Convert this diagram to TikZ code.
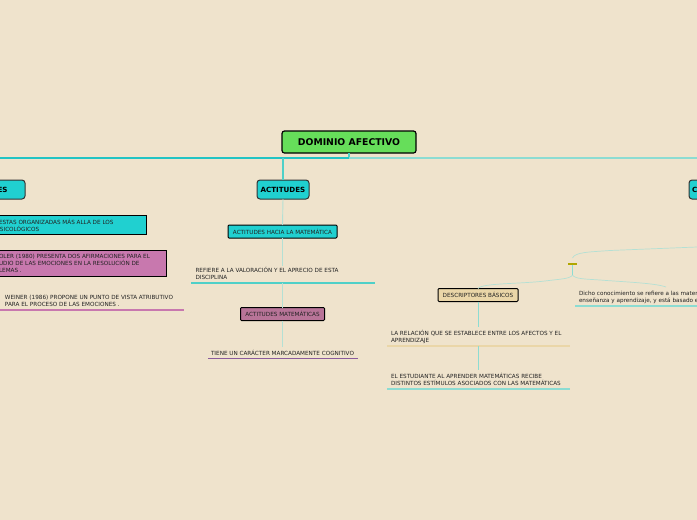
\documentclass[tikz,border=0pt]{standalone}
\usepackage{fontspec}
\setmainfont{DejaVu Sans}
\definecolor{bgc}{HTML}{EFE3CC}
\definecolor{teal1}{HTML}{22C4C4}
\definecolor{teal2}{HTML}{4FD0C8}
\definecolor{teal3}{HTML}{8CDCD2}
\definecolor{pale}{HTML}{B4E0D4}
\definecolor{boxc}{HTML}{20D0D0}
\definecolor{pink}{HTML}{C878AE}
\definecolor{mauve}{HTML}{B87498}
\definecolor{green1}{HTML}{66DE5A}
\definecolor{sand}{HTML}{EAD6A8}
\definecolor{purp}{HTML}{8A5C9C}
\definecolor{txt}{HTML}{222222}
\tikzset{
  x=1pt,y=-1pt,
  every node/.style={inner sep=0pt,outer sep=0pt,text=txt},
  tiny/.style={font=\fontsize{5.68}{7}\selectfont,align=left},
  rootbox/.style={draw=black,line width=1.2pt,rounded corners=2.5pt,fill=green1,text=black,font=\fontsize{9.3}{11}\selectfont\bfseries},
  mainbox/.style={draw=black!80,line width=1pt,rounded corners=3pt,fill=boxc,text=black,font=\fontsize{7.1}{9}\selectfont\bfseries},
  subbox/.style={draw=black,line width=1pt,rounded corners=1pt,tiny,align=center},
  widebox/.style={draw=black,line width=1pt,tiny},
  link/.style={line width=.9pt,draw=pale},
  rule/.style={line width=1.7pt}
}
\begin{document}
\begin{tikzpicture}
\useasboundingbox[fill=bgc] (0,0) rectangle (697,520);
\clip (0,0) rectangle (697,520);
% anchors
\coordinate (jl) at (283,158);
\coordinate (jr) at (349,158);
\coordinate (edgeL) at (0,158);
\coordinate (edgeR) at (697,158);
% boxes
\node[rootbox,minimum width=134pt,minimum height=22pt] (root) at (349,142) {DOMINIO AFECTIVO};
\node[mainbox,minimum width=52pt,minimum height=19pt] (act) at (283,189.5) {ACTITUDES};
\node[mainbox,minimum width=52pt,minimum height=19pt,anchor=east] (emo) at (25,189.5) {};
\node[anchor=east,text=black,font=\fontsize{7.1}{9}\selectfont\bfseries] (emot) at (7.5,189.5) {ES};
\node[mainbox,minimum width=40pt,minimum height=19pt,anchor=west] (con) at (689,189.5) {};
\node[anchor=west,text=black,font=\fontsize{7.1}{9}\selectfont\bfseries] (cont) at (692,189.5) {C};
\node[subbox,fill=boxc,minimum width=109pt,minimum height=13pt] (ahm) at (282.5,231.5) {ACTITUDES HACIA LA MATEMÁTICA};
\node[subbox,fill=mauve,minimum width=84pt,minimum height=13pt] (am) at (282.5,314) {ACTITUDES MATEMÁTICAS};
\node[subbox,fill=sand,minimum width=80pt,minimum height=13pt] (db) at (478,295) {DESCRIPTORES BÁSICOS};
\node[widebox,fill=boxc,minimum width=160pt,minimum height=19pt,anchor=east] (b1) at (146,224.5) {};
\node[tiny,anchor=west] (b1t) at (-1,225) {ESTAS ORGANIZADAS MÁS ALLA DE LOS\\\hspace*{1pt}SICOLÓGICOS};
\node[widebox,fill=pink,minimum width=180pt,minimum height=26pt,anchor=east] (b2) at (166,263) {};
\node[tiny,anchor=west] (b2t) at (-1,263) {OLER (1980) PRESENTA DOS AFIRMACIONES PARA EL\\UDIO DE LAS EMOCIONES EN LA RESOLUCIÓN DE\\LEMAS .};
% text with rules
\node[tiny,anchor=west] (w) at (5,301) {WEINER (1986) PROPONE UN PUNTO DE VISTA ATRIBUTIVO\\PARA EL PROCESO DE LAS EMOCIONES .};
\node[tiny,anchor=west] (ref) at (195.5,273.5) {REFIERE A LA VALORACIÓN Y EL APRECIO DE ESTA\\DISCIPLINA};
\node[tiny,anchor=center] (tie) at (282.5,353) {TIENE UN CARÁCTER MARCADAMENTE COGNITIVO};
\node[tiny,anchor=west] (rel) at (391,337) {LA RELACIÓN QUE SE ESTABLECE ENTRE LOS AFECTOS Y EL\\APRENDIZAJE};
\node[tiny,anchor=west] (est) at (391,379.5) {EL ESTUDIANTE AL APRENDER MATEMÁTICAS RECIBE\\DISTINTOS ESTÍMULOS ASOCIADOS CON LAS MATEMÁTICAS};
\node[tiny,anchor=west] (dicho) at (579,297) {Dicho conocimiento se refiere a las matemáticas\\enseñanza y aprendizaje, y está basado en};
% rules
\coordinate (wl) at (0,310); \coordinate (wr) at (184,310);
\coordinate (refl) at (191,283); \coordinate (refr) at (375,283);
\coordinate (tl) at (208,358.5); \coordinate (tr) at (358,358.5);
\coordinate (rl) at (387,346); \coordinate (rr) at (570,346);
\coordinate (el) at (387,389); \coordinate (er) at (570,389);
\coordinate (dl) at (575,306); \coordinate (dr) at (697,306);
\coordinate (mark1) at (568,264); \coordinate (mark2) at (577,264);
\draw[rule,draw=pink] (wl) -- (wr);
\draw[rule,draw=teal2] (refl) -- (refr);
\draw[rule,draw=purp] (tl) -- (tr);
\draw[rule,draw=sand] (rl) -- (rr);
\draw[rule,draw=teal3] (el) -- (er);
\draw[rule,draw=teal3] (dl) -- (dr);
\draw[line width=1.2pt,draw=olive!70!yellow] (mark1) -- (mark2);
% connectors
\draw[line width=1.8pt,draw=teal2] (root.south -| jr) -- (jr);
\draw[line width=1.8pt,draw=teal1] (jr) -- (jl);
\draw[line width=1.8pt,draw=teal1] (jl) -- (edgeL);
\draw[line width=1.4pt,draw=teal3] (jr) -- (edgeR);
\draw[line width=1.8pt,draw=teal2] (jl) -- (act.north);
\draw[link] (act.south) -- (ahm.north);
\draw[link] (ahm.south) -- (282.5,266);
\draw[link] (282.5,283) -- (am.north);
\draw[link] (am.south) -- (282.5,347);
\draw[link,draw=teal3,line width=.7pt] (db.south) -- (478,327);
\draw[link,draw=teal3,line width=.7pt] (478,346) -- (478,370);
\coordinate (fork) at (572.5,275);
\draw[link,draw=teal3,line width=.7pt] (572.5,264.5) -- (fork);
\draw[link,line width=.7pt] (fork) .. controls (570,279) and (560,279) .. (545,281) .. controls (520,284) and (482,283) .. (478,288.5);
\draw[link,line width=.7pt] (fork) .. controls (575,279) and (585,279) .. (600,280) .. controls (625,282) and (655,283) .. (666,287);
\draw[link,line width=.7pt] (572.5,258) .. controls (575,252) and (590,252) .. (610,250.5) -- (697,247);
\end{tikzpicture}
\end{document}
